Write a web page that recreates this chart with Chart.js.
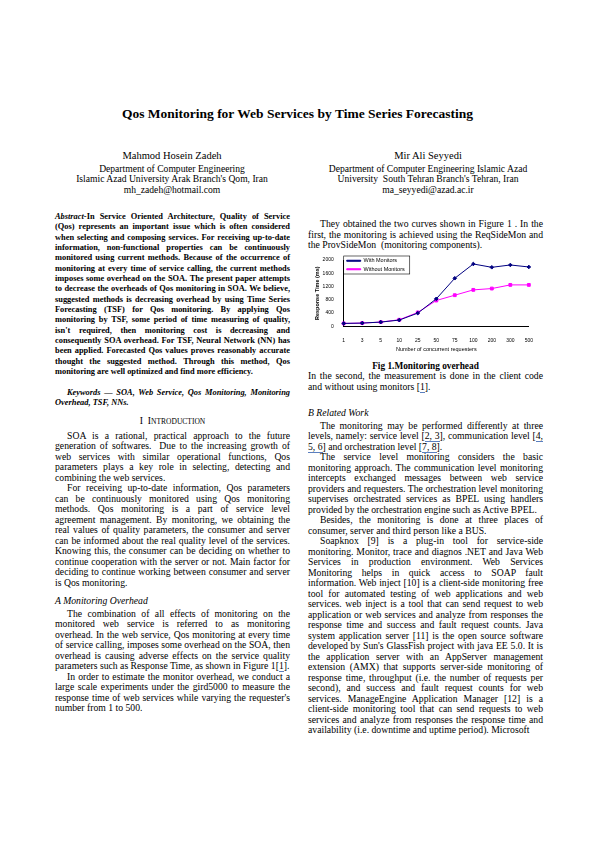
<!DOCTYPE html>
<html lang="en">
<head>
<meta charset="UTF-8">
<title>Qos Monitoring</title>
<style>
    body { margin: 0; width: 595px; height: 842px; background: #fff; font-family: "Liberation Serif", serif; color: #000; position: relative; }
    .title { position: absolute; top: 106px; left: 0; width: 595px; text-align: center; font-weight: bold; font-size: 13.5px; }
    .author { position: absolute; top: 151px; width: 260px; text-align: center; font-size: 9.6px; line-height: 10.6px; }
    .author .name { font-size: 10.5px; margin-bottom: 2px; }
    .col { position: absolute; width: 235px; font-size: 9.7px; line-height: 10.5px; text-align: justify; }
    .col p { margin: 0; text-indent: 12px; }
    .col p.ni { text-indent: 0; }
    .col h4 { margin: 8px 0 3px; font-weight: normal; text-align: center; font-size: 9.7px; }
    .col h5 { margin: 8px 0 2px; font-weight: normal; font-style: italic; font-size: 9.7px; }
    .abs { font-size: 8.4px; line-height: 10.35px; font-weight: bold; }
    .lnk { border-bottom: 1px solid #5b7fbf; }
    #chartBox { width: 222px; height: 98px; margin: 4px 0 0 6px; }
    .cap { text-align: center; font-weight: bold; font-size: 9.3px; margin-top: 8px; }
</style>
</head>
<body>
    <div class="title">Qos Monitoring for Web Services by Time Series Forecasting</div>

    <div class="author" style="left:42px">
        <div class="name">Mahmod Hosein Zadeh</div>
        Department of Computer Engineering<br>
        Islamic Azad University Arak Branch's Qom, Iran<br>
        mh_zadeh@hotmail.com
    </div>
    <div class="author" style="left:298px">
        <div class="name">Mir Ali Seyyedi</div>
        Department of Computer Engineering Islamic Azad<br>
        University &nbsp;South Tehran Branch's Tehran, Iran<br>
        ma_seyyedi@azad.ac.ir
    </div>

    <div class="col" style="left:55px; top:212px">
        <p class="ni abs"><i>Abstract</i>-In Service Oriented Architecture, Quality of Service (Qos) represents an important issue which is often considered when selecting and composing services. For receiving up-to-date information, non-functional properties can be continuously monitored using current methods. Because of the occurrence of monitoring at every time of service calling, the current methods imposes some overhead on the SOA. The present paper attempts to decrease the overheads of Qos monitoring in SOA. We believe, suggested methods is decreasing overhead by using Time Series Forecasting (TSF) for Qos monitoring. By applying Qos monitoring by TSF, some period of time measuring of quality, isn't required, then monitoring cost is decreasing and consequently SOA overhead. For TSF, Neural Network (NN) has been applied. Forecasted Qos values proves reasonably accurate thought the suggested method. Through this method, Qos monitoring are well optimized and find more efficiency.</p>
        <p class="abs" style="margin-top:10px"><i>Keywords — SOA, Web Service, Qos Monitoring, Monitoring Overhead, TSF, NNs.</i></p>
        <h4>I&nbsp; I<span style="font-size:7.5px">NTRODUCTION</span></h4>
        <p>SOA is a rational, practical approach to the future generation of softwares. &nbsp;Due to the increasing growth of web services with similar operational functions, Qos parameters plays a key role in selecting, detecting and combining the web services.</p>
        <p>For receiving up-to-date information, Qos parameters can be continuously monitored using Qos monitoring methods. Qos monitoring is a part of service level agreement management. By monitoring, we obtaining the real values of quality parameters, the consumer and server can be informed about the real quality level of the services. Knowing this, the consumer can be deciding on whether to continue cooperation with the server or not. Main factor for deciding to continue working between consumer and server is Qos monitoring.</p>
        <h5>A Monitoring Overhead</h5>
        <p>The combination of all effects of monitoring on the monitored web service is referred to as monitoring overhead. In the web service, Qos monitoring at every time of service calling, imposes some overhead on the SOA, then overhead is causing adverse effects on the service quality parameters such as Response Time, as shown in Figure 1[<span class="lnk">1</span>].</p>
        <p>In order to estimate the monitor overhead, we conduct a large scale experiments under the gird5000 to measure the response time of web services while varying the requester's number from 1 to 500.</p>
    </div>

    <div class="col" style="left:308px; top:219px">
        <p>They obtained the two curves shown in Figure 1 . In the first, the monitoring is achieved using the ReqSideMon and the ProvSideMon &nbsp;(monitoring components).</p>
        <div id="chartBox"><canvas id="overheadChart"></canvas></div>
        <div class="cap">Fig 1.Monitoring overhead</div>
        <p class="ni">In the second, the measurement is done in the client code and without using monitors [<span class="lnk">1</span>].</p>
        <h5 style="margin-top:16px">B Related Work</h5>
        <p>The monitoring may be performed differently at three levels, namely: service level [<span class="lnk">2, 3</span>], communication level [<span class="lnk">4, 5, 6</span>] and orchestration level [<span class="lnk">7, 8</span>].</p>
        <p>The service level monitoring considers the basic monitoring approach. The communication level monitoring intercepts exchanged messages between web service providers and requesters. The orchestration level monitoring supervises orchestrated services as BPEL using handlers provided by the orchestration engine such as Active BPEL.</p>
        <p>Besides, the monitoring is done at three places of consumer, server and third person like a BUS.</p>
        <p>Soapknox [9] is a plug-in tool for service-side monitoring. Monitor, trace and diagnos .NET and Java Web Services in production environment. Web Services Monitoring helps in quick access to SOAP fault information. Web inject [10] is a client-side monitoring free tool for automated testing of web applications and web services. web inject is a tool that can send request to web application or web services and analyze from responses the response time and success and fault request counts. Java system application server [11] is the open source software developed by Sun's GlassFish project with java EE 5.0. It is the application server with an AppServer management extension (AMX) that supports server-side monitoring of response time, throughput (i.e. the number of requests per second), and success and fault request counts for web services. ManageEngine Application Manager [12] is a client-side monitoring tool that can send requests to web services and analyze from responses the response time and availability (i.e. downtime and uptime period). Microsoft</p>
    </div>

    <script src="https://cdn.jsdelivr.net/npm/chart.js@4.4.4/dist/chart.umd.min.js"></script>
    <script>
        // Figure 1 data
        const requesters = ['1', '3', '5', '10', '25', '50', '75', '100', '200', '300', '500'];
        const withMonitors = [90, 100, 130, 190, 400, 830, 1450, 1880, 1780, 1850, 1790];
        const withoutMonitors = [90, 100, 130, 200, 420, 780, 940, 1100, 1140, 1250, 1250];

        // legend box like the excel one
        const legendFrame = {
            id: 'legendFrame',
            afterDraw(chart) {
                const l = chart.legend;
                if (!l || !l.legendHitBoxes.length) return;
                const c = chart.ctx;
                let x1 = Infinity, y1 = Infinity, x2 = 0, y2 = 0;
                l.legendHitBoxes.forEach(h => {
                    x1 = Math.min(x1, h.left); y1 = Math.min(y1, h.top);
                    x2 = Math.max(x2, h.left + h.width); y2 = Math.max(y2, h.top + h.height);
                });
                c.save();
                c.strokeStyle = '#000';
                c.lineWidth = 0.6;
                c.strokeRect(x1 - 3, y1 - 2, x2 - x1 + 8, y2 - y1 + 4);
                c.restore();
            }
        };

        const ctx = document.getElementById('overheadChart');
        new Chart(ctx, {
            type: 'line',
            data: {
                labels: requesters,
                datasets: [{
                    label: 'With Monitors',
                    data: withMonitors,
                    borderColor: '#000080',
                    backgroundColor: '#000080',
                    borderWidth: 1,
                    pointStyle: 'rectRot',
                    pointRadius: 1.8
                }, {
                    label: 'Without Monitors',
                    data: withoutMonitors,
                    borderColor: '#ff00ff',
                    backgroundColor: '#ff00ff',
                    borderWidth: 1,
                    pointStyle: 'rect',
                    pointRadius: 2
                }]
            },
            options: {
                responsive: true,
                maintainAspectRatio: false,
                animation: false,
                layout: { padding: { right: 4, top: 2 } },
                plugins: {
                    legend: {
                        position: 'chartArea',
                        align: 'start',
                        labels: { boxWidth: 14, boxHeight: 1, font: { size: 5.5, family: 'Liberation Sans' }, color: '#000', padding: 3 }
                    },
                    tooltip: { enabled: false }
                },
                scales: {
                    x: {
                        grid: { display: false },
                        border: { color: '#000' },
                        ticks: { font: { size: 5, family: 'Liberation Sans' }, color: '#000', maxRotation: 0, autoSkip: false },
                        title: { display: true, text: 'Number of concurrent requesters', font: { size: 5.5, family: 'Liberation Sans' }, color: '#000', padding: 0 }
                    },
                    y: {
                        min: 0, max: 2000,
                        grid: { display: false },
                        border: { color: '#000' },
                        ticks: { stepSize: 200, font: { size: 5, family: 'Liberation Sans' }, color: '#000', padding: 2, callback: v => String(v) },
                        title: { display: true, text: 'Response Time (ms)', font: { size: 5.5, weight: 'bold', family: 'Liberation Sans' }, color: '#000', padding: 0 }
                    }
                }
            },
            plugins: [legendFrame]
        });
    </script>
</body>
</html>
